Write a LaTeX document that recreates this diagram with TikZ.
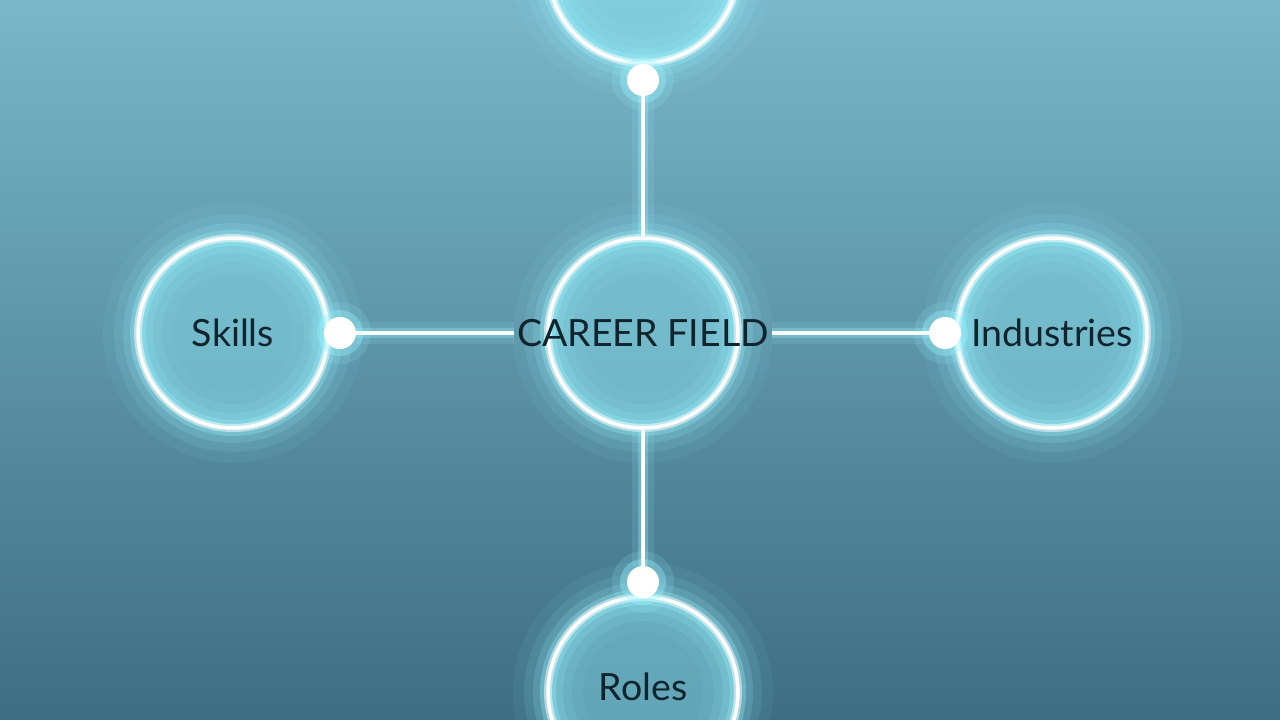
\documentclass[tikz,border=0pt]{standalone}
\usepackage{fontspec}
\setmainfont{Lato}
\definecolor{bgtop}{HTML}{79B7C9}
\definecolor{bgbot}{HTML}{3D6E83}
\definecolor{glowc}{HTML}{9AF4FF}
\definecolor{inner}{HTML}{8EE8F6}
\definecolor{txt}{HTML}{10242E}
\tikzset{
  ring/.style={circle, minimum size=190pt, inner sep=0pt, draw=white, line width=3.5pt,
    preaction={fill=inner, fill opacity=0.45},
    preaction={draw=glowc, line width=70pt, draw opacity=0.06},
    preaction={draw=glowc, line width=48pt, draw opacity=0.10},
    preaction={draw=glowc, line width=30pt, draw opacity=0.16},
    preaction={draw=glowc, line width=16pt, draw opacity=0.30},
    preaction={draw=white, line width=8pt, draw opacity=0.5}},
  label/.style={text=txt, font=\fontsize{37.5}{44}\selectfont, inner sep=3pt},
  dot/.style={circle, fill=white, minimum size=32pt, inner sep=0pt,
    preaction={draw=glowc, line width=30pt, draw opacity=0.15},
    preaction={draw=glowc, line width=14pt, draw opacity=0.35}},
  link/.style={draw=white, line width=3.5pt,
    preaction={draw=glowc, line width=22pt, draw opacity=0.12},
    preaction={draw=glowc, line width=10pt, draw opacity=0.30}}
}
\begin{document}
\begin{tikzpicture}[x=1pt,y=-1pt]
\useasboundingbox (0,0) rectangle (1280,720);
\clip (0,0) rectangle (1280,720);
\shade[top color=bgtop, bottom color=bgbot] (0,0) rectangle (1280,720);
% nodes
\node[ring] (top) at (643,-32) {};
\node[ring] (center) at (643,333) {};
\node[ring] (skills) at (233,333) {};
\node[ring] (industries) at (1052,333) {};
\node[ring] (roles) at (643,692) {};
% dots
\node[dot] (topdot) at (643,80) {};
\node[dot] (skillsdot) at (340,333) {};
\node[dot] (inddot) at (945,333) {};
\node[dot] (rolesdot) at (643,582) {};
% texts
\node[label] (centertext) at (center) {CAREER FIELD};
\node[label] at (skills) {Skills};
\node[label] at (industries) {Industries};
\node[label] at (643,687) {Roles};
% connectors
\path[link] (topdot.south) -- (center.north);
\path[link] (center.south) -- (rolesdot.north);
\path[link] (skillsdot.east) -- (centertext.west);
\path[link] (centertext.east) -- (inddot.west);
\end{tikzpicture}
\end{document}
